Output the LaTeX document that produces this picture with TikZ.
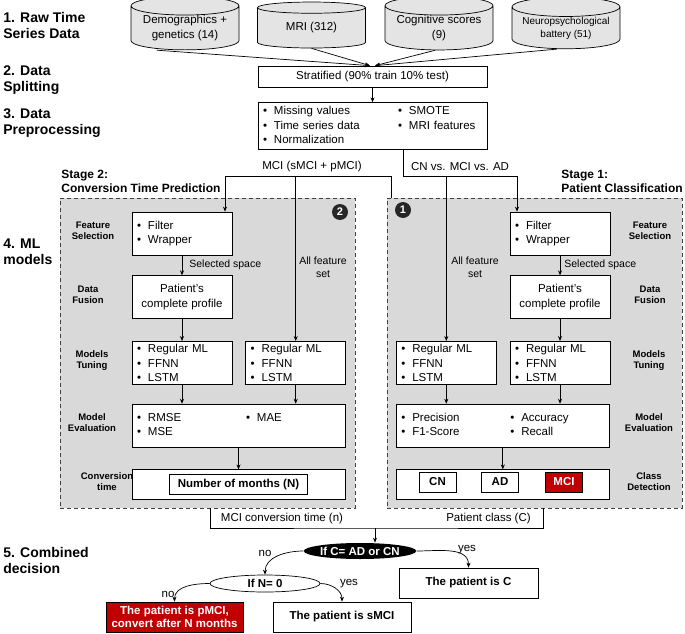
\documentclass[tikz,border=0pt]{standalone}
\usepackage{fontspec}
\setmainfont{Liberation Sans}
\usepackage{xcolor}
\usepackage{tikz}
\usetikzlibrary{arrows.meta, positioning}
\usetikzlibrary{shapes.geometric}
\definecolor{stagegray}{RGB}{217,217,217}
\definecolor{cylgray}{RGB}{228,228,228}
\definecolor{alertred}{RGB}{192,0,0}
\newcommand{\itemdot}[1]{\makebox[11pt][l]{\textbullet}#1}

\begin{document}
\begin{tikzpicture}[x=1pt, y=-1pt, >={Stealth[length=5pt,width=4pt]},
    font=\fontsize{11.5}{14.5}\selectfont, line width=0.7pt,
    boxed/.style={draw, fill=white, inner sep=0pt},
    listed/.style={boxed, align=left, inner xsep=5pt, text width=90pt, minimum height=43pt},
    steplabel/.style={anchor=west, align=left, inner sep=0pt, font=\fontsize{14}{16}\selectfont\bfseries},
    stagelabel/.style={anchor=west, align=left, inner sep=0pt, font=\fontsize{12}{14}\selectfont\bfseries},
    sidelabel/.style={align=center, inner sep=0pt, font=\fontsize{9.5}{11}\selectfont\bfseries},
    smalltext/.style={align=center, inner sep=0pt, font=\fontsize{10.5}{13}\selectfont},
    stagebox/.style={draw=black!75, dash pattern=on 4pt off 3pt, fill=stagegray, line width=0.8pt, anchor=north west, inner sep=0pt, minimum width=295pt, minimum height=310pt},
    dbcyl/.style={cylinder, shape border rotate=90, draw, fill=cylgray, aspect=0.22, minimum width=108pt, minimum height=46pt, align=center, inner sep=0pt},
    badge/.style={circle, fill=black!85, text=white, inner sep=0pt, minimum size=16pt, font=\fontsize{11}{11}\selectfont\bfseries},
    classbox/.style={boxed, minimum width=37pt, minimum height=20pt, font=\fontsize{11.5}{14}\selectfont\bfseries},
    endbox/.style={boxed, minimum height=30pt, align=center, font=\fontsize{11.5}{13}\selectfont\bfseries}]
\useasboundingbox (0,0) rectangle (685,634);

% step labels
\node (step_raw) [steplabel] at (3,25) {1. Raw Time\\Series Data};
\node (step_split) [steplabel] at (3,80) {2. Data\\Splitting};
\node (step_prep) [steplabel] at (3,123) {3. Data\\Preprocessing};
\node (step_ml) [steplabel] at (3,252) {4. ML\\models};
\node (step_comb) [steplabel] at (3,560) {5. Combined\\decision};

% data sources
\node (demo) [dbcyl] at (185,28) {Demographics +\\genetics (14)};
\node (mri) [dbcyl] at (311.5,28) {MRI (312)};
\node (cog) [dbcyl] at (439,28) {Cognitive scores\\(9)};
\node (neuro) [dbcyl, font=\fontsize{10}{13}\selectfont] at (566,28) {Neuropsychological\\battery (51)};

\node (strat) [boxed, minimum width=229pt, minimum height=21pt] at (372.5,76.5) {Stratified (90\% train 10\% test)};
\draw[->] ([xshift=-28pt]demo.south) -- ([xshift=-2.5pt]strat.north);
\draw[->] (mri.south) -- ([xshift=-2.5pt]strat.north);
\draw[->] ([xshift=-4pt]cog.south) -- ([xshift=2.5pt]strat.north);
\draw[->] ([xshift=-9pt]neuro.south) -- ([xshift=2.5pt]strat.north);

\node (prep) [boxed, align=left, inner xsep=5pt, text width=219pt, minimum height=47pt, below=15pt of strat] {%
  \begin{tabular}{@{}p{135pt}@{}l@{}}
  \itemdot{Missing values} & \itemdot{SMOTE}\\
  \itemdot{Time series data} & \itemdot{MRI features}\\
  \itemdot{Normalization} &
  \end{tabular}};
\draw[->] (strat) -- (prep);

% stage frames
\node (stage_conv) [stagebox] at (60,198) {};
\node (stage_cls) [stagebox] at (387,198) {};
\node (stage_conv_lbl) [stagelabel] at (61,181) {Stage 2:\\Conversion Time Prediction};
\node (stage_cls_lbl) [stagelabel] at (561,181) {Stage 1:\\Patient Classification};
\node (badge_conv) [badge] at (340,212) {2};
\node (badge_cls) [badge] at (403,210) {1};

% stage 2: conversion time
\node (filter_conv) [listed] at (182,233.5) {\itemdot{Filter}\\\itemdot{Wrapper}};
\node (profile_conv) [boxed, align=center, minimum width=100pt, minimum height=43pt, below=20pt of filter_conv] {Patient's\\complete profile};
\node (tune_conv) [listed, below=22pt of profile_conv] {\itemdot{Regular ML}\\\itemdot{FFNN}\\\itemdot{LSTM}};
\node (tune_conv_all) [listed, right=13pt of tune_conv] {\itemdot{Regular ML}\\\itemdot{FFNN}\\\itemdot{LSTM}};
\node (eval_conv) [boxed, align=left, inner xsep=5pt, text width=203pt, minimum height=43pt, below=19pt of tune_conv.south west, anchor=north west] {%
  \begin{tabular}{@{}p{109pt}@{}l@{}}
  \itemdot{RMSE} & \itemdot{MAE}\\
  \itemdot{MSE} &
  \end{tabular}};
\node (time_conv) [boxed, minimum width=213pt, minimum height=30pt, below=22pt of eval_conv.south west, anchor=north west] {};
\node (months) [boxed, minimum width=138pt, minimum height=20pt, font=\fontsize{11.5}{14}\selectfont\bfseries] at (time_conv) {Number of months (N)};

\draw[->] (filter_conv) -- (profile_conv);
\draw[->] (profile_conv) -- (tune_conv);
\draw[->] (tune_conv.south) -- (tune_conv.south |- eval_conv.north);
\draw[->] (tune_conv_all.south) -- (tune_conv_all.south |- eval_conv.north);
\draw[->] (eval_conv) -- (time_conv);

\node (sel_conv) [smalltext, anchor=west] at (189,265) {Selected space};
\node (all_conv) [smalltext] at (323,267) {All feature\\set};

\node (fs_conv) [sidelabel] at (93,231) {Feature\\Selection};
\node (df_conv) [sidelabel] at (88,295) {Data\\Fusion};
\node (mt_conv) [sidelabel] at (92,361) {Models\\Tuning};
\node (me_conv) [sidelabel] at (92,423) {Model\\Evaluation};
\node (ct_conv) [sidelabel] at (107,482) {Conversion\\time};

% stage 1: patient classification
\node (filter_cls) [listed] at (560,233.5) {\itemdot{Filter}\\\itemdot{Wrapper}};
\node (profile_cls) [boxed, align=center, minimum width=100pt, minimum height=43pt, below=20pt of filter_cls] {Patient's\\complete profile};
\node (tune_cls) [listed, below=22pt of profile_cls] {\itemdot{Regular ML}\\\itemdot{FFNN}\\\itemdot{LSTM}};
\node (tune_cls_all) [listed, left=13pt of tune_cls] {\itemdot{Regular ML}\\\itemdot{FFNN}\\\itemdot{LSTM}};
\node (eval_cls) [boxed, align=left, inner xsep=5pt, text width=203pt, minimum height=43pt, below=19pt of tune_cls_all.south west, anchor=north west] {%
  \begin{tabular}{@{}p{109pt}@{}l@{}}
  \itemdot{Precision} & \itemdot{Accuracy}\\
  \itemdot{F1-Score} & \itemdot{Recall}
  \end{tabular}};
\node (class_cls) [boxed, minimum width=213pt, minimum height=30pt, below=22pt of eval_cls.south west, anchor=north west] {};
\node (class_cn) [classbox] at (437.5,482) {CN};
\node (class_ad) [classbox] at (500,482) {AD};
\node (class_mci) [classbox, fill=alertred, text=white] at (564,482) {MCI};

\draw[->] (filter_cls) -- (profile_cls);
\draw[->] (profile_cls) -- (tune_cls);
\draw[->] (tune_cls.south) -- (tune_cls.south |- eval_cls.north);
\draw[->] (tune_cls_all.south) -- (tune_cls_all.south |- eval_cls.north);
\draw[->] (eval_cls) -- (class_cls);

\node (sel_cls) [smalltext, anchor=west] at (564,265) {Selected space};
\node (all_cls) [smalltext] at (475,267) {All feature\\set};

\node (fs_cls) [sidelabel] at (650,231) {Feature\\Selection};
\node (df_cls) [sidelabel] at (650,295) {Data\\Fusion};
\node (mt_cls) [sidelabel] at (649,361) {Models\\Tuning};
\node (me_cls) [sidelabel] at (649,423) {Model\\Evaluation};
\node (cd_cls) [sidelabel] at (649,482) {Class\\Detection};

% branching into the two stages
\coordinate (split_cls) at (403,176);
\coordinate (mci_out) at ([xshift=4pt]stage_cls.north west);
\draw[->] (prep.south -| split_cls) -- (split_cls) -| ([xshift=-43pt]filter_cls.north);
\draw[->] (split_cls -| tune_cls_all.north) -- (tune_cls_all.north);
\draw[->] (mci_out) |- (split_cls -| 225,0) -- ([xshift=43pt]filter_conv.north);
\draw[->] (split_cls -| tune_conv_all.north) -- (tune_conv_all.north);
\node (mci_lbl) at (312,167) {MCI (sMCI + pMCI)};
\node (cls_lbl) at (460,167) {CN vs. MCI vs. AD};

% combined decision
\coordinate (n_out) at (210,508);
\coordinate (c_out) at (543,508);
\coordinate (merge) at (375,528);
\draw (n_out) |- (merge) -| (c_out);
\node (n_lbl) at (282,519) {MCI conversion time (n)};
\node (c_lbl) at (488.5,519) {Patient class (C)};

\node (decide_c) [ellipse, fill=black, text=white, inner sep=0pt, minimum width=110pt, minimum height=16pt, font=\fontsize{11.5}{13}\selectfont\bfseries] at (360,551) {If C= AD or CN};
\node (decide_n) [ellipse, draw, fill=white, inner sep=0pt, minimum width=110pt, minimum height=17pt, font=\fontsize{11.5}{13}\selectfont\bfseries] at (265,583.5) {If N= 0};
\node (patient_c) [endbox, minimum width=139pt] at (468.5,583) {The patient is C};
\node (patient_smci) [endbox, minimum width=138pt] at (342,617) {The patient is sMCI};
\node (patient_pmci) [endbox, minimum width=137pt, fill=alertred, text=white] at (174.5,617) {The patient is pMCI,\\convert after N months};

\draw[->] (merge) -- (merge |- decide_c.north);
\draw[->] (decide_c.west) to[out=180, in=90] (decide_n.north);
\draw[->] (decide_c.east) to[out=0, in=90] (patient_c.north);
\draw[->] (decide_n.west) to[out=180, in=90] (patient_pmci.north);
\draw[->] (decide_n.east) to[out=0, in=90] (patient_smci.north);
\node (no_c) at (265,553) {no};
\node (yes_c) at (467,550) {yes};
\node (no_n) at (168,594) {no};
\node (yes_n) at (349,584) {yes};
\end{tikzpicture}
\end{document}
